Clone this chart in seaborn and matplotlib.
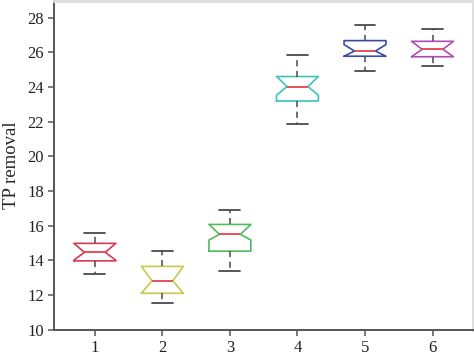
import matplotlib
matplotlib.use("Agg")
import matplotlib.pyplot as plt
import seaborn as sns

# box statistics
groups = ["1", "2", "3", "4", "5", "6"]
whislo = [13.23, 11.52, 13.40, 21.85, 24.92, 25.21]
q1 = [13.97, 12.10, 14.53, 23.19, 25.77, 25.74]
med = [14.46, 12.82, 15.50, 24.02, 26.07, 26.17]
q3 = [14.98, 13.65, 16.07, 24.60, 26.67, 26.63]
whishi = [15.59, 14.53, 16.90, 25.86, 27.57, 27.32]
cilo = [14.01, 12.10, 15.17, 23.52, 25.77, 25.74]
cihi = [14.98, 13.65, 16.07, 24.60, 26.44, 26.63]

box_colors = ["#d83a50", "#c8c84a", "#52ba5c", "#38c4c0", "#3a4aa6", "#b04cb4"]

sns.set_style("white")
plt.rcParams["font.family"] = ["Liberation Serif", "DejaVu Serif"]

stats = []
for i, g in enumerate(groups):
    stats.append(dict(label=g, whislo=whislo[i], q1=q1[i], med=med[i], q3=q3[i],
                      whishi=whishi[i], cilo=cilo[i], cihi=cihi[i], fliers=[]))

fig = plt.figure(figsize=(4.74, 3.59), dpi=100)
ax = fig.add_axes([0.1146, 0.0816, 0.8834, 0.9154])

art = ax.bxp(stats, positions=range(1, 7), widths=0.62, shownotches=True,
             showfliers=False, patch_artist=False,
             whiskerprops=dict(color="#4a4a4a", linestyle=(0, (4, 3)), linewidth=1.1),
             capprops=dict(color="#4a4a4a", linewidth=1.3),
             medianprops=dict(color="#e8404c", linewidth=1.3),
             boxprops=dict(linewidth=1.2))
for box, c in zip(art["boxes"], box_colors):
    box.set_color(c)

ax.set_xlim(0.4, 6.6)
ax.set_ylim(10, 28.95)
ax.set_yticks(range(10, 29, 2))
ax.set_ylabel("TP removal", fontsize=13.5, labelpad=5)
ax.tick_params(axis="both", labelsize=12, direction="out", length=4, width=1.1,
               color="#555555", labelcolor="#222222", left=True, bottom=True)

for side in ["left", "bottom"]:
    ax.spines[side].set_color("#555555")
    ax.spines[side].set_linewidth(1.4)
for side in ["top", "right"]:
    ax.spines[side].set_color("#dddddd")
    ax.spines[side].set_linewidth(2)

fig.savefig("out.png", dpi=100)
